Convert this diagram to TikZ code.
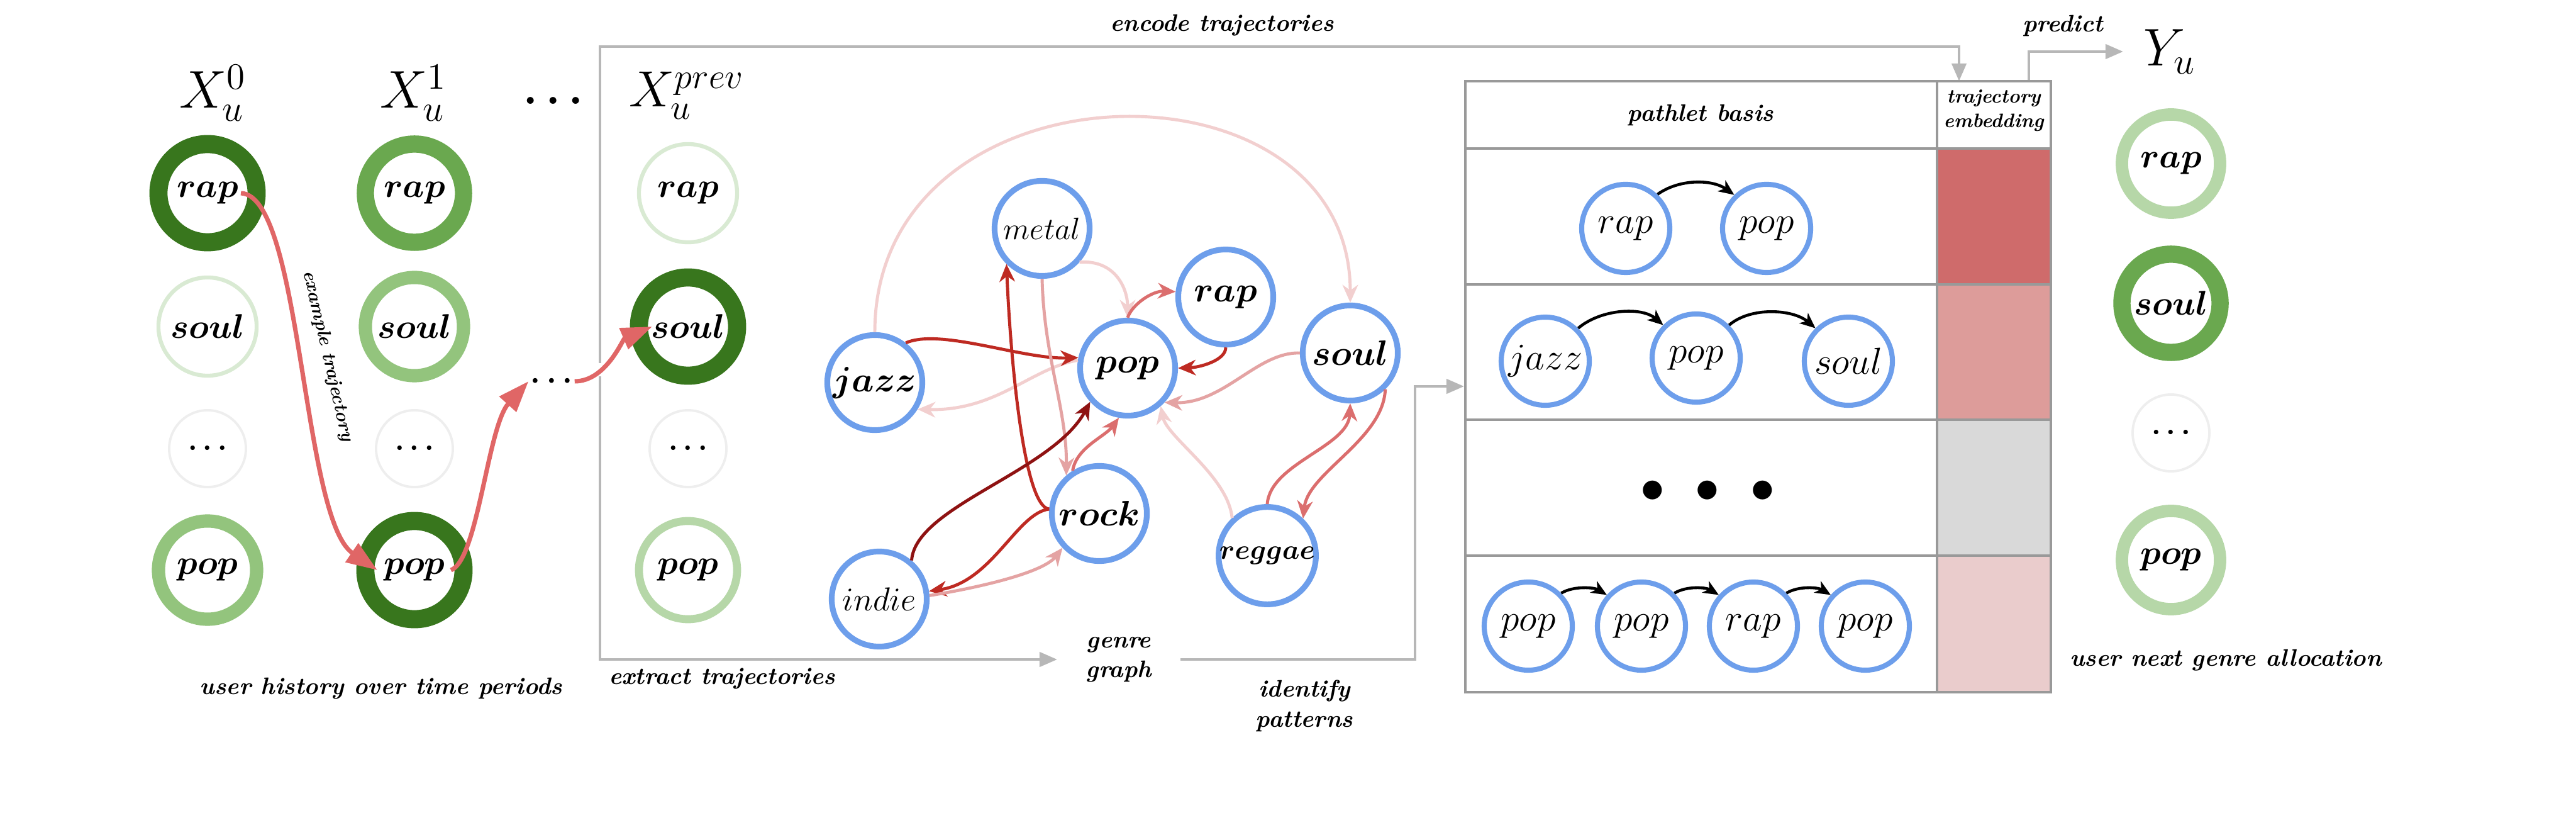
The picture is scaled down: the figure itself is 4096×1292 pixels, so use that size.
\RequirePackage{fix-cm}
\documentclass[tikz,border=0pt]{standalone}
\usetikzlibrary{arrows.meta,calc}
\definecolor{gA}{HTML}{38761D}
\definecolor{gB}{HTML}{6AA84F}
\definecolor{gC}{HTML}{93C47D}
\definecolor{gD}{HTML}{B6D7A8}
\definecolor{gE}{HTML}{D9EAD3}
\definecolor{gF}{HTML}{EEEEEE}
\definecolor{nblue}{HTML}{6D9EEB}
\definecolor{trajc}{HTML}{E06666}
\definecolor{rA}{HTML}{8E1212}
\definecolor{rB}{HTML}{BE2A22}
\definecolor{rC}{HTML}{DB6E6E}
\definecolor{rD}{HTML}{E4A3A3}
\definecolor{rE}{HTML}{F2CFCF}
\definecolor{gframe}{HTML}{B7B7B7}
\definecolor{tline}{HTML}{999999}
\definecolor{emA}{HTML}{CF6B6B}
\definecolor{emB}{HTML}{DD9C9A}
\definecolor{emC}{HTML}{D9D9D9}
\definecolor{emD}{HTML}{EACCCC}
\tikzset{
  every node/.style={inner sep=0pt},
  ann/.style={font=\fontsize{10.8}{13.5}\selectfont\bfseries\itshape, align=center},
  hc/.style={circle, minimum size=1.56cm, font=\boldmath\fontsize{15.5}{15.5}\selectfont},
  rgA/.style={hc, draw=gA, line width=8.2pt},
  rgB/.style={hc, draw=gB, line width=7.8pt},
  rgC/.style={hc, draw=gC, line width=6pt},
  rgD/.style={hc, draw=gD, line width=5.6pt},
  rgDt/.style={hc, draw=gD, line width=3.6pt},
  rgE/.style={hc, draw=gE, line width=1.8pt},
  dotc/.style={circle, minimum size=1.22cm, draw=gF, line width=1.1pt, font=\boldmath\fontsize{13}{13}\selectfont},
  gn/.style={circle, minimum size=1.51cm, draw=nblue, line width=2.6pt, font=\boldmath\fontsize{16}{16}\selectfont},
  pn/.style={circle, minimum size=1.40cm, draw=nblue, line width=2.3pt, font=\fontsize{17}{17}\selectfont},
  trajarrow/.style={draw=trajc, line width=2pt, -{Triangle[length=14pt,width=10pt]}},
  ge/.style={line width=1.4pt, -{Stealth[length=8pt,width=7pt,inset=2.5pt]}},
  gline/.style={draw=gframe, line width=1.4pt},
  garrow/.style={gline, -{Triangle[length=8pt,width=6.5pt]}},
  tabline/.style={draw=tline, line width=0.9pt},
  pa/.style={draw=black, line width=1.3pt, -{Stealth[length=7pt,width=6pt,inset=2pt]}},
}
\begin{document}
\begin{tikzpicture}[x=0.01cm,y=-0.01cm]
\useasboundingbox (0,0) rectangle (4096,1292);
% ---------- column headers
\node[font=\fontsize{24}{24}\selectfont] (lx0) at (338,148) {$X_u^0$};
\node[font=\fontsize{24}{24}\selectfont] (lx1) at (657,148) {$X_u^1$};
\node[font=\boldmath\fontsize{20}{20}\selectfont] (ldots) at (880,160) {$\ldots$};
\node[font=\fontsize{23}{23}\selectfont] (lxp) at (1092,152) {$X_u^{prev}$};
\node[font=\fontsize{24}{24}\selectfont] (Yu) at (3450,82) {$Y_u$};
% ---------- history columns
\node[rgA] (h0r) at (330,307) {$rap$};
\node[rgE] (h0s) at (330,519) {$soul$};
\node[dotc] (h0d) at (330,713) {$\cdots$};
\node[rgC] (h0p) at (330,906) {$pop$};
\node[rgB] (h1r) at (659,307) {$rap$};
\node[rgC] (h1s) at (659,519) {$soul$};
\node[dotc] (h1d) at (659,713) {$\cdots$};
\node[rgA] (h1p) at (659,906) {$pop$};
\node[rgE] (h2r) at (1094,307) {$rap$};
\node[rgA] (h2s) at (1094,519) {$soul$};
\node[dotc] (h2d) at (1094,713) {$\cdots$};
\node[rgDt] (h2p) at (1094,906) {$pop$};
\node[rgD] (yr) at (3452,260) {$rap$};
\node[rgB] (ys) at (3452,482) {$soul$};
\node[dotc] (yd) at (3452,688) {$\cdots$};
\node[rgD] (yp) at (3452,890) {$pop$};
% ---------- frame lines
\coordinate (gapA) at (954,577);
\coordinate (gapB) at (954,598);
\coordinate (encTurn) at (3115,74);
\coordinate (encEnd) at (3115,129);
\coordinate (idTurn) at (2250,614);
\coordinate (tabIn) at (2328,614);
\coordinate (predS) at (3226,129);
\node[ann] (gg) at (1779,1048) {genre\\graph};
\draw[garrow] (gapA) |- (encTurn) -- (encEnd);
\draw[garrow, shorten >=0.45cm] (gapB) |- (gg.west);
\draw[garrow, shorten <=0.45cm] (gg.east) -| (idTurn) -- (tabIn);
\draw[garrow] (predS) |- ([xshift=-0.32cm]Yu.west);
% ---------- annotations
\node[ann] (tEnc) at (1943,40) {encode trajectories};
\node[ann] (tExt) at (1148,1079) {extract trajectories};
\node[ann] (tHist) at (606,1094) {user history over time periods};
\node[ann] (tId) at (2074,1122) {identify\\patterns};
\node[ann] (tPred) at (3280,41) {predict};
\node[ann] (tNext) at (3539,1049) {user next genre allocation};
\node[ann, font=\fontsize{8.5}{10}\selectfont\bfseries\itshape, rotate=-77] (tEx) at (521,566) {example trajectory};
% ---------- trajectory arrows
\node[font=\boldmath\fontsize{14}{14}\selectfont] (mid) at (877,606) {$\cdots$};
\draw[trajarrow] ([xshift=0.53cm]h0r.center) .. controls +(97,3) and +(-120,-82) .. ([xshift=-0.59cm]h1p.center);
\draw[trajarrow] ([xshift=0.58cm]h1p.center) .. controls +(43,-16) and +(-65,72) .. ([xshift=-0.03cm]mid.west);
\draw[trajarrow] ([xshift=0.03cm]mid.east) .. controls +(50,0) and +(-47,20) .. ([xshift=-0.57cm]h2s.center);
% ---------- genre graph
\node[gn, font=\fontsize{14}{14}\selectfont] (gmetal) at (1657,363) {$metal$};
\node[gn] (grap) at (1949,472) {$rap$};
\node[gn] (gpop) at (1793,585) {$pop$};
\node[gn] (gsoul) at (2147,561) {$soul$};
\node[gn] (gjazz) at (1391,608) {$jazz$};
\node[gn] (grock) at (1748,816) {$rock$};
\node[gn, font=\boldmath\fontsize{12.5}{12.5}\selectfont] (greggae) at (2015,883) {$reggae$};
\node[gn, font=\fontsize{15}{15}\selectfont] (gindie) at (1398,952) {$indie$};
\draw[ge, rE] (gjazz.north) .. controls +(0,-438) and +(0,-406) .. (gsoul.north);
\draw[ge, rE] (gpop.171) .. controls +(-75,13) and +(126,3) .. (gjazz.-32);
\draw[ge, rB] (gjazz.52) .. controls +(55,-24) and +(-89,3) .. (gpop.168);
\draw[ge, rE] (gmetal.-42) .. controls +(57,-4) and +(0,-46) .. (gpop.north);
\draw[ge, rD] (gmetal.south) .. controls +(3,125) and +(1,-105) .. (grock.131);
\draw[ge, rB] (grock.175) .. controls +(-41,-4) and +(6,144) .. (gmetal.-135);
\draw[ge, rB] (grock.175) .. controls +(-51,6) and +(100,-14) .. (gindie.9);
\draw[ge, rD] (gindie.4) .. controls +(75,-12) and +(-31,40) .. (grock.-137);
\draw[ge, rA] (gindie.50) .. controls +(6,-86) and +(-60,111) .. (gpop.-138);
\draw[ge, rC] (grock.122) .. controls +(6,-37) and +(-22,30) .. (gpop.-100);
\draw[ge, rC] (gpop.north) .. controls +(7,-21) and +(-37,-2) .. (grap.174);
\draw[ge, rB] (grap.south) .. controls +(0,21) and +(34,-1) .. (gpop.east);
\draw[ge, rD] (gsoul.west) .. controls +(-68,-2) and +(95,2) .. (gpop.-43);
\draw[ge, rE] (greggae.133) .. controls +(-7,-67) and +(10,50) .. (gpop.-49);
\draw[ge, rC] (greggae.north) .. controls +(5,-65) and +(-3,69) .. (gsoul.south);
\draw[ge, rC] (gsoul.-46) .. controls +(-3,80) and +(8,-73) .. (greggae.46);
% ---------- table
\fill[emA] (3080,236) rectangle (3261,452);
\fill[emB] (3080,452) rectangle (3261,667);
\fill[emC] (3080,667) rectangle (3261,883);
\fill[emD] (3080,883) rectangle (3261,1100);
\draw[tabline] (2330,129) rectangle (3261,1100);
\draw[tabline] (3080,129) -- (3080,1100);
\foreach \yy in {236,452,667,883} \draw[tabline] (2330,\yy) -- (3261,\yy);
\node[ann] (tPath) at (2704,183) {pathlet basis};
\node[ann, font=\fontsize{8.8}{11}\selectfont\bfseries\itshape] (tEmb) at (3170,176) {trajectory\\embedding};
% row 1
\node[pn] (p1a) at (2585,363) {$rap$};
\node[pn] (p1b) at (2809,363) {$pop$};
\draw[pa] (p1a.47) .. controls +(35,-25) and +(-35,-25) .. (p1b.134);
% row 2
\node[pn] (p2a) at (2457,574) {$jazz$};
\node[pn] (p2b) at (2697,569) {$pop$};
\node[pn] (p2c) at (2939,574) {$soul$};
\draw[pa] (p2a.45) .. controls +(35,-30) and +(-35,-30) .. (p2b.135);
\draw[pa] (p2b.45) .. controls +(35,-30) and +(-35,-30) .. (p2c.135);
% row 3
\node[font=\fontsize{22}{22}\selectfont] (pdots) at (2715,781) {$\bullet\hspace{9pt}\bullet\hspace{9pt}\bullet$};
% row 4
\node[pn] (p4a) at (2430,995) {$pop$};
\node[pn] (p4b) at (2610,995) {$pop$};
\node[pn] (p4c) at (2788,995) {$rap$};
\node[pn] (p4d) at (2966,995) {$pop$};
\draw[pa] (p4a.45) .. controls +(20,-12) and +(-20,-12) .. (p4b.138);
\draw[pa] (p4b.45) .. controls +(20,-12) and +(-20,-12) .. (p4c.138);
\draw[pa] (p4c.45) .. controls +(20,-12) and +(-20,-12) .. (p4d.138);
\end{tikzpicture}
\end{document}
